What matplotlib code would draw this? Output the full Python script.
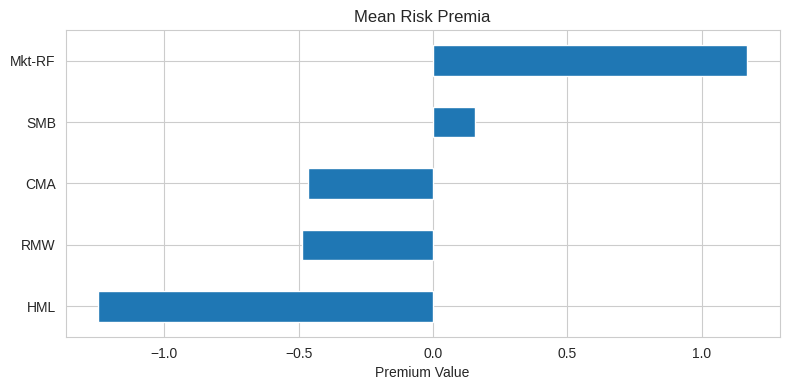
import matplotlib
matplotlib.use("Agg")
import matplotlib.pyplot as plt
import pandas as pd
import seaborn as sns

factors = ["HML", "RMW", "CMA", "SMB", "Mkt-RF"]
premia = [-1.246, -0.486, -0.466, 0.157, 1.169]

sns.set_style("whitegrid")
plt.rcParams["font.family"] = ["Liberation Sans", "DejaVu Sans"]

s = pd.Series(premia, index=factors)
fig, ax = plt.subplots(figsize=(7.9, 3.9), dpi=100)
s.plot(kind="barh", ax=ax, color="#1f77b4")
ax.set_title("Mean Risk Premia")
ax.set_xlabel("Premium Value")
fig.subplots_adjust(left=0.083, right=0.987, top=0.923, bottom=0.136)
plt.savefig("out.png")
